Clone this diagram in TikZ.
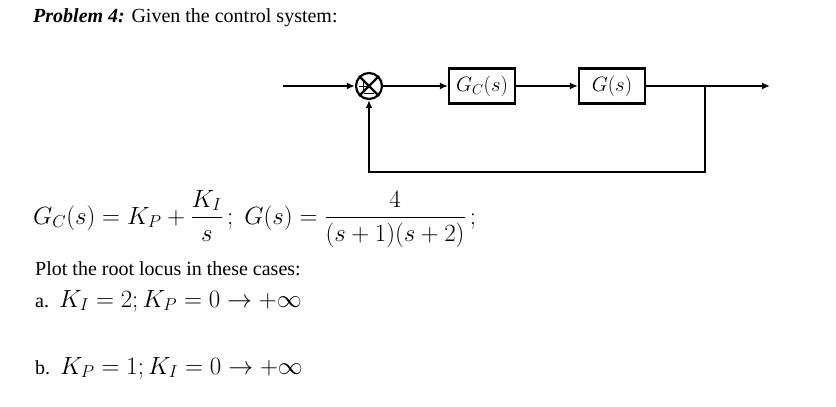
\documentclass[tikz,border=0pt]{standalone}
\usepackage{amsmath}
\usepackage{fontspec}
\setmainfont{Liberation Serif}
\usetikzlibrary{arrows.meta}
\begin{document}
\begin{tikzpicture}[x=1pt,y=-1pt,
  blk/.style={draw,line width=2.2pt,minimum width=66pt,minimum height=35pt,inner sep=0pt,font=\fontsize{22}{24}\selectfont},
  ln/.style={line width=2.2pt},
  arr/.style={ln,-{Latex[length=8pt,width=7pt]}},
  txt/.style={anchor=base west,inner sep=0pt,font=\fontsize{20}{24}\selectfont}]
\useasboundingbox (0,0) rectangle (836,407);
\node[txt] (title) at (33,22) {\textbf{\textit{Problem 4:}} Given the control system:};
\coordinate (in) at (283,86);
\node[draw,circle,line width=2.2pt,minimum size=26pt,inner sep=0pt] (sum) at (369,86) {};
\draw[ln] (sum.north west) -- (sum.south east) (sum.north east) -- (sum.south west);
\draw[line width=0.9pt] (359,86) -- (367,86) (363,82) -- (363,92) (364,93) -- (374,93);
\node[blk] (gc) at (482,86) {$G_C(s)$};
\node[blk] (g) at (612,86) {$G(s)$};
\coordinate (br) at (705,86);
\coordinate (out) at (770,86);
\coordinate (fb1) at (705,172);
\coordinate (fb2) at (369,172);
\draw[arr] (in) -- (sum.west);
\draw[arr] (sum.east) -- (gc.west);
\draw[arr] (gc.east) -- (g.west);
\draw[arr] (g.east) -- (out);
\draw[arr] (br) -- (fb1) -- (fb2) -- (sum.south);
\node[anchor=base west,inner sep=0pt,font=\fontsize{23}{26}\selectfont] (eq) at (33,224)
  {$G_C(s)=K_P+\dfrac{K_I}{s}\,;\;G(s)=\dfrac{4}{(s+1)(s+2)}\,;$};
\node[txt] (plot) at (35,275) {Plot the root locus in these cases:};
\node[txt] (a) at (35,307) {a.\ \ {\fontsize{23}{26}\selectfont$K_I=2; K_P=0\rightarrow+\infty$}};
\node[txt] (b) at (35,374) {b.\ \ {\fontsize{23}{26}\selectfont$K_P=1; K_I=0\rightarrow+\infty$}};
\end{tikzpicture}
\end{document}
